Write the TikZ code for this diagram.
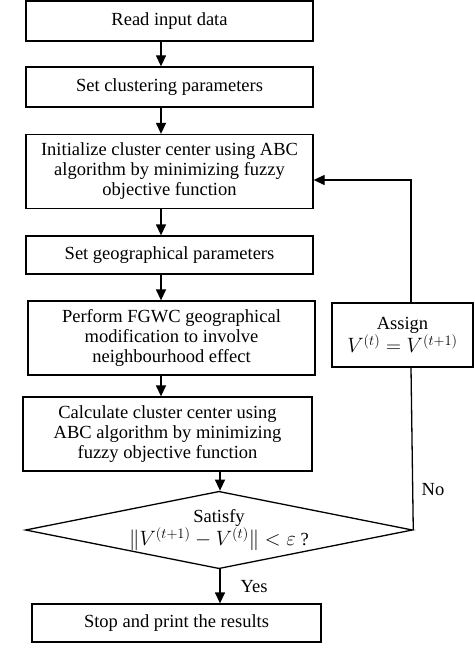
\documentclass[tikz,border=0pt]{standalone}
\usepackage{fontspec}
\setmainfont{Liberation Serif}
\usetikzlibrary{arrows.meta,shapes.geometric}
\newcommand{\bigmath}[1]{{\fontsize{20.5}{20}\selectfont$#1$}}
\begin{document}
\begin{tikzpicture}[x=1pt,y=-1pt,
  box/.style={draw,line width=1.3pt,rectangle,align=center,inner sep=2pt,
    font=\fontsize{18.5}{20}\selectfont},
  arr/.style={line width=1.3pt,-{Triangle[length=11pt,width=10pt]}},
  lbl/.style={font=\fontsize{18.5}{20}\selectfont}]
\useasboundingbox (0,0) rectangle (474,666);
\node[box,minimum width=287pt,minimum height=40pt] (b1) at (169.5,21) {Read input data};
\node[box,minimum width=287pt,minimum height=40pt] (b2) at (169.5,87) {Set clustering parameters};
\node[box,minimum width=287pt,minimum height=74pt] (b3) at (169.5,171.5) {Initialize cluster center using ABC\\algorithm by minimizing fuzzy\\objective function};
\node[box,minimum width=287pt,minimum height=38pt] (b4) at (169.5,255) {Set geographical parameters};
\node[box,minimum width=287pt,minimum height=74pt] (b5) at (171.5,338) {Perform FGWC geographical\\modification to involve\\neighbourhood effect};
\node[box,minimum width=289pt,minimum height=74pt] (b6) at (167.5,434) {Calculate cluster center using\\ABC algorithm by minimizing\\fuzzy objective function};
\node[box,shape=diamond,aspect=5,minimum width=386pt,minimum height=76pt,inner sep=0pt] (dia) at (219,530) {Satisfy\\\bigmath{\|V^{(t+1)}-V^{(t)}\|<\varepsilon} ?};
\node[box,minimum width=289pt,minimum height=38pt] (b7) at (176.5,623) {Stop and print the results};
\node[box,minimum width=141pt,minimum height=64pt] (asg) at (402.5,335) {Assign\\\bigmath{V^{(t)}=V^{(t+1)}}};
\coordinate (ax) at (161,0);
\coordinate (bx) at (220,0);
\coordinate (lx) at (411,0);
\coordinate (ly) at (0,180);
\draw[arr] (b1.south -| ax) -- (b2.north -| ax);
\draw[arr] (b2.south -| ax) -- (b3.north -| ax);
\draw[arr] (b3.south -| ax) -- (b4.north -| ax);
\draw[arr] (b4.south -| ax) -- (b5.north -| ax);
\draw[arr] (b5.south -| ax) -- (b6.north -| ax);
\draw[arr] (b6.south -| bx) -- (dia.north -| bx);
\draw[arr] (dia.south -| bx) -- (b7.north -| bx);
\draw[line width=1.3pt] (dia.east) -- (asg.south -| lx);
\draw[arr] (asg.north -| lx) -- (lx |- ly) -- (b3.east |- ly);
\node[lbl] (no) at (433,490) {No};
\node[lbl] (yes) at (254,587) {Yes};
\end{tikzpicture}
\end{document}
